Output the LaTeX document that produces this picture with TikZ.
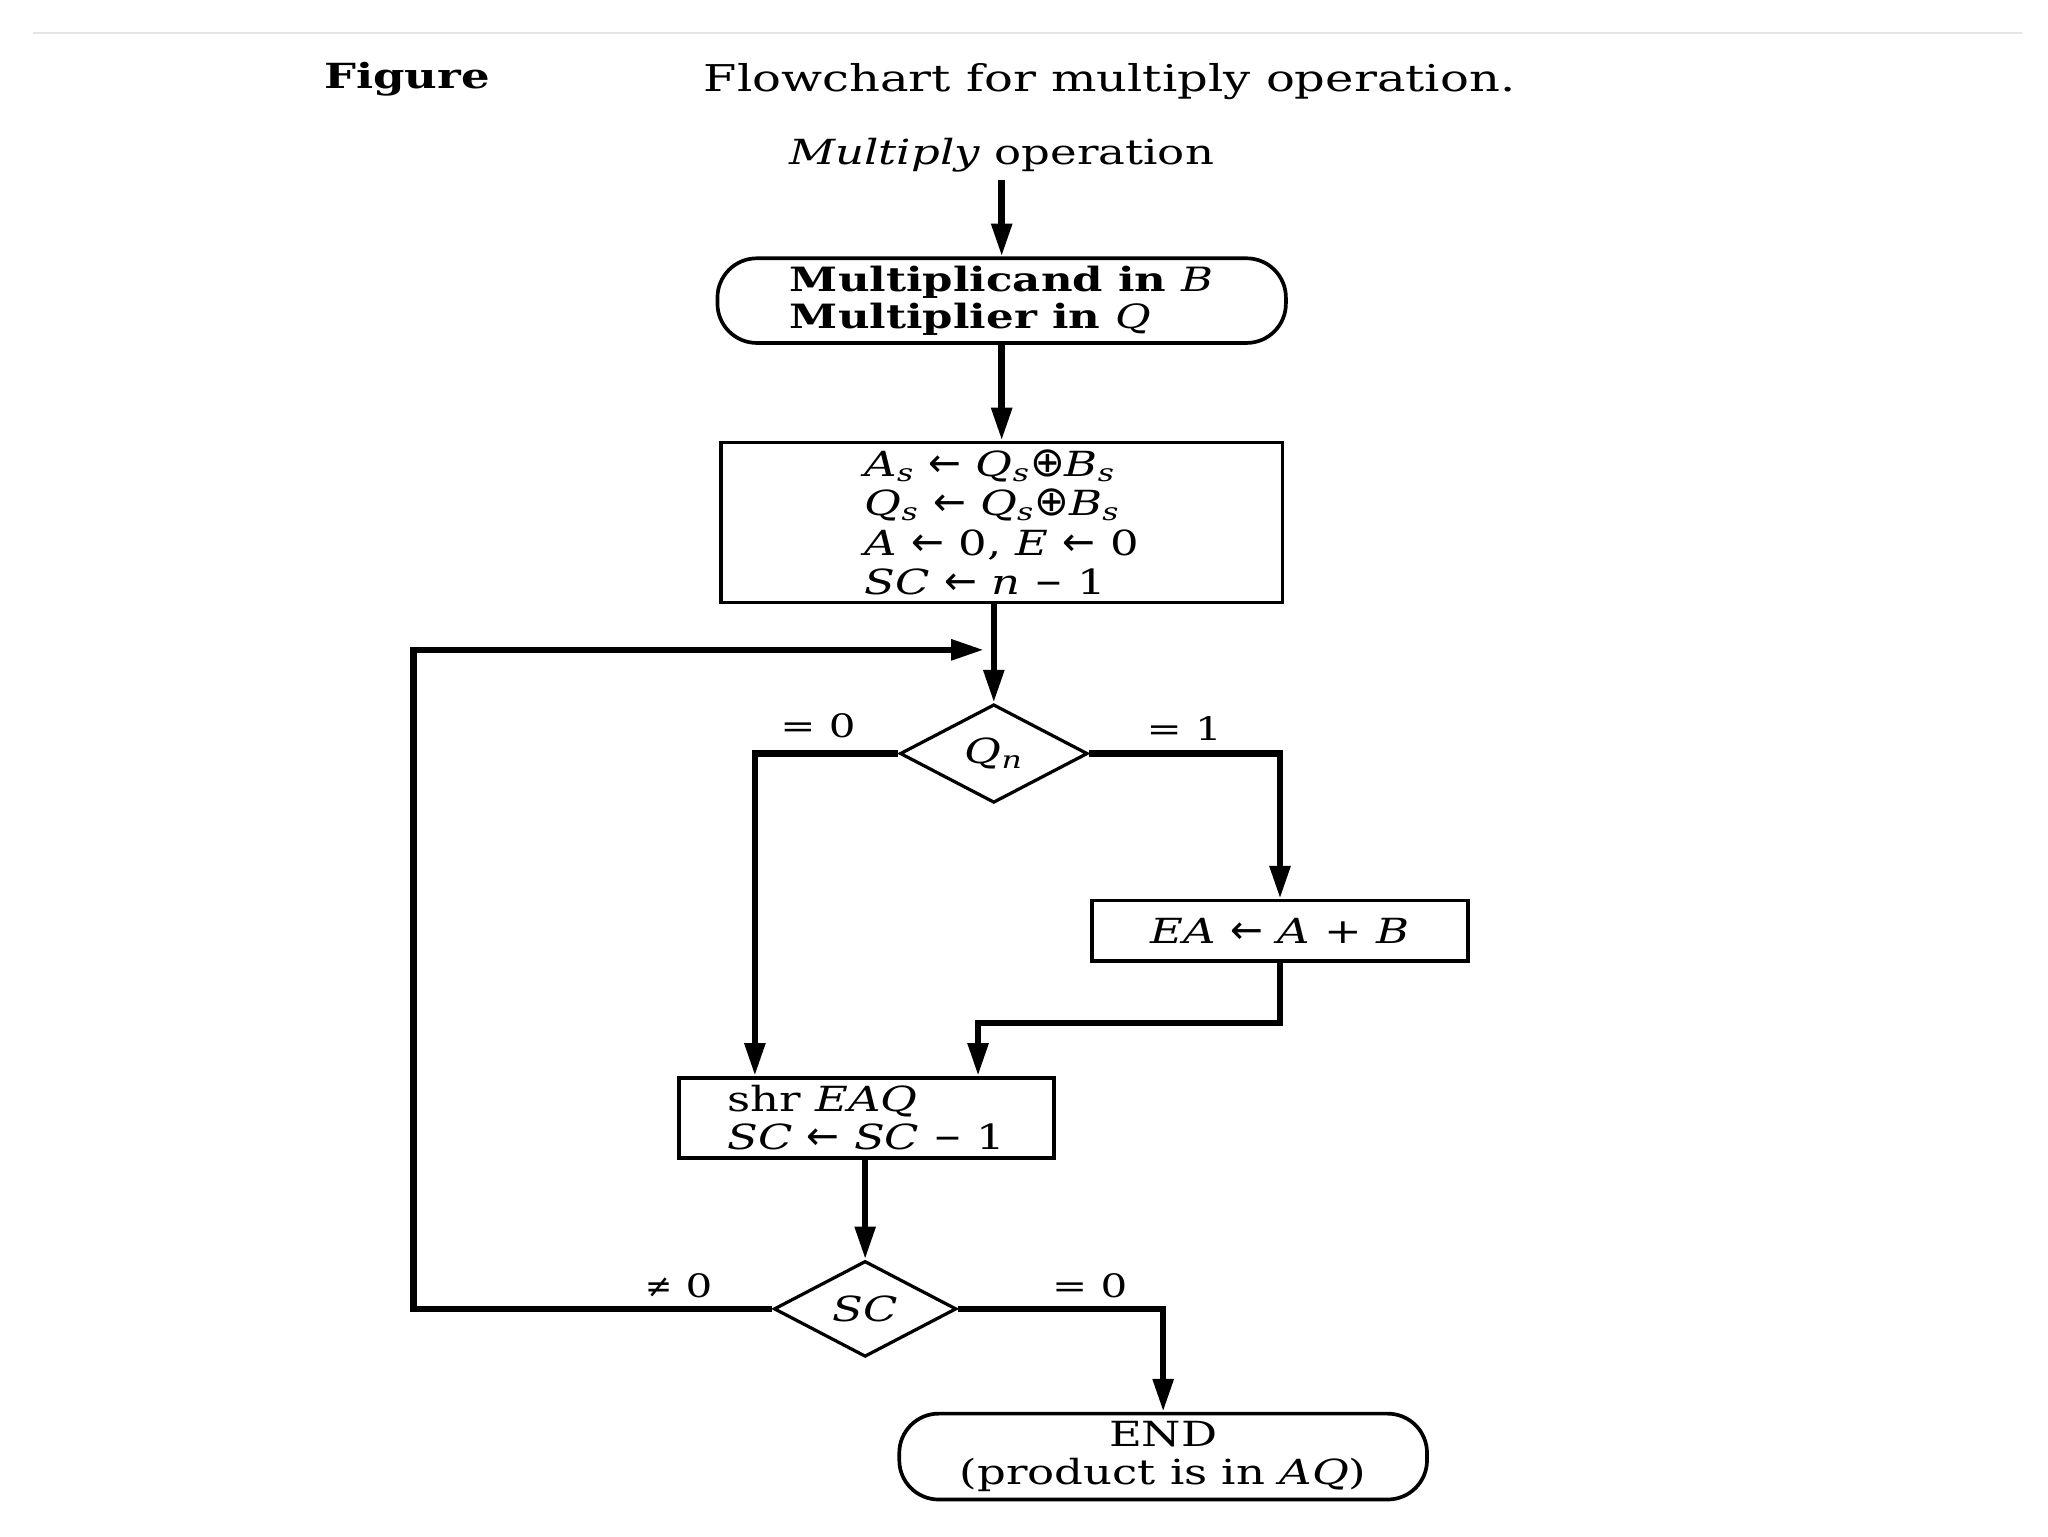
\documentclass[tikz,border=0pt]{standalone}
\usepackage{fontspec}
\setmainfont{DejaVu Serif}[FakeStretch=1.3]
\newfontfamily\symfont{DejaVu Sans}
\usepackage{tikz}
\usetikzlibrary{arrows.meta,shapes.geometric}
\newcommand{\vn}[1]{\textit{#1}}
\newcommand{\vs}[2]{\textit{#1}\textsubscript{\textit{#2}}}
\newcommand{\getsym}{{\symfont\fontsize{17}{16}\selectfont ←}}
\newcommand{\xorsym}{{\symfont\fontsize{18}{16}\selectfont ⊕}}
\newcommand{\minsym}{{\symfont −}}
\tikzset{
  term/.style={draw, line width=1.6pt, rounded corners=0.6cm, align=left, minimum height=1.26cm},
  proc/.style={draw, line width=1.6pt, align=left},
  cond/.style={diamond, draw, line width=1.4pt, inner sep=0pt},
  flow/.style={line width=2.8pt, -{Triangle[length=0.5cm,width=0.3cm]}},
  tag/.style={font=\fontsize{14}{14}\selectfont}
}
\begin{document}
\begin{tikzpicture}[font=\fontsize{15}{16.5}\selectfont]
  \useasboundingbox (0,0) rectangle (31.2,23.4);
  \draw[black!10, line width=0.6pt] (0.5,22.9) -- (30.8,22.9);
  \node[font=\bfseries\fontsize{15}{15}\selectfont] (fig) at (6.2,22.2) {Figure};
  \node[anchor=west, font=\fontsize{16}{16}\selectfont] (cap) at (10.6,22.16) {Flowchart for multiply operation.};
  \node (title) at (15.26,21.04) {\vn{Multiply} operation};

  % boxes
  \node[term, minimum width=8.66cm, font=\bfseries\fontsize{14.5}{16}\selectfont] (start) at (15.26,18.82)
    {Multiplicand in \mdseries\vn{B}\\Multiplier in \mdseries\vn{Q}};
  \node[proc, minimum width=8.56cm, minimum height=2.44cm, font=\fontsize{15}{17}\selectfont] (init) at (15.26,15.44)
    {\vs{A}{s} \getsym{} \vs{Q}{s}\xorsym\vs{B}{s}\\
     \vs{Q}{s} \getsym{} \vs{Q}{s}\xorsym\vs{B}{s}\\
     \vn{A} \getsym{} 0, \vn{E} \getsym{} 0\\
     \vn{SC} \getsym{} \vn{n} \minsym{} 1};
  \node[cond, minimum width=2.86cm, minimum height=1.5cm] (qn) at (15.14,11.92) {\vs{Q}{n}};
  \node[proc, minimum width=5.72cm, minimum height=0.92cm] (ea) at (19.5,9.22) {\vn{EA} \getsym{} \vn{A} + \vn{B}};
  \node[proc, minimum width=5.72cm, minimum height=1.22cm] (shr) at (13.2,6.37) {shr \vn{EAQ}\\\vn{SC} \getsym{} \vn{SC} \minsym{} 1};
  \node[cond, minimum width=2.78cm, minimum height=1.46cm] (sc) at (13.18,3.46) {\vn{SC}};
  \node[term, minimum width=8.04cm, align=center] (done) at (17.72,1.21) {END\\(product is in \vn{AQ})};

  % labels
  \node[tag] (qz) at (12.46,12.34) {= 0};
  \node[tag] (qo) at (18.04,12.3) {= 1};
  \node[tag] (sn) at (10.34,3.82) {{\symfont ≠} 0};
  \node[tag] (sz) at (16.6,3.82) {= 0};

  % connectors
  \coordinate (join) at (15.14,13.5);
  \coordinate (back) at (6.3,13.5);
  \draw[flow] (title) -- (start);
  \draw[flow] (start) -- (init);
  \draw[flow] (init.south -| qn.north) -- (qn.north);
  \draw[flow, shorten >=0.15cm] (sc.west) -| (back) -- (join);
  \draw[flow] (qn.west) -| ([xshift=-1.7cm]shr.north);
  \draw[flow] (qn.east) -| (ea.north);
  \draw[flow] (ea.south) -- ++(0,-0.92) -| ([xshift=1.7cm]shr.north);
  \draw[flow] (shr.south -| sc.north) -- (sc.north);
  \draw[flow] (sc.east) -| (done.north);
\end{tikzpicture}
\end{document}
